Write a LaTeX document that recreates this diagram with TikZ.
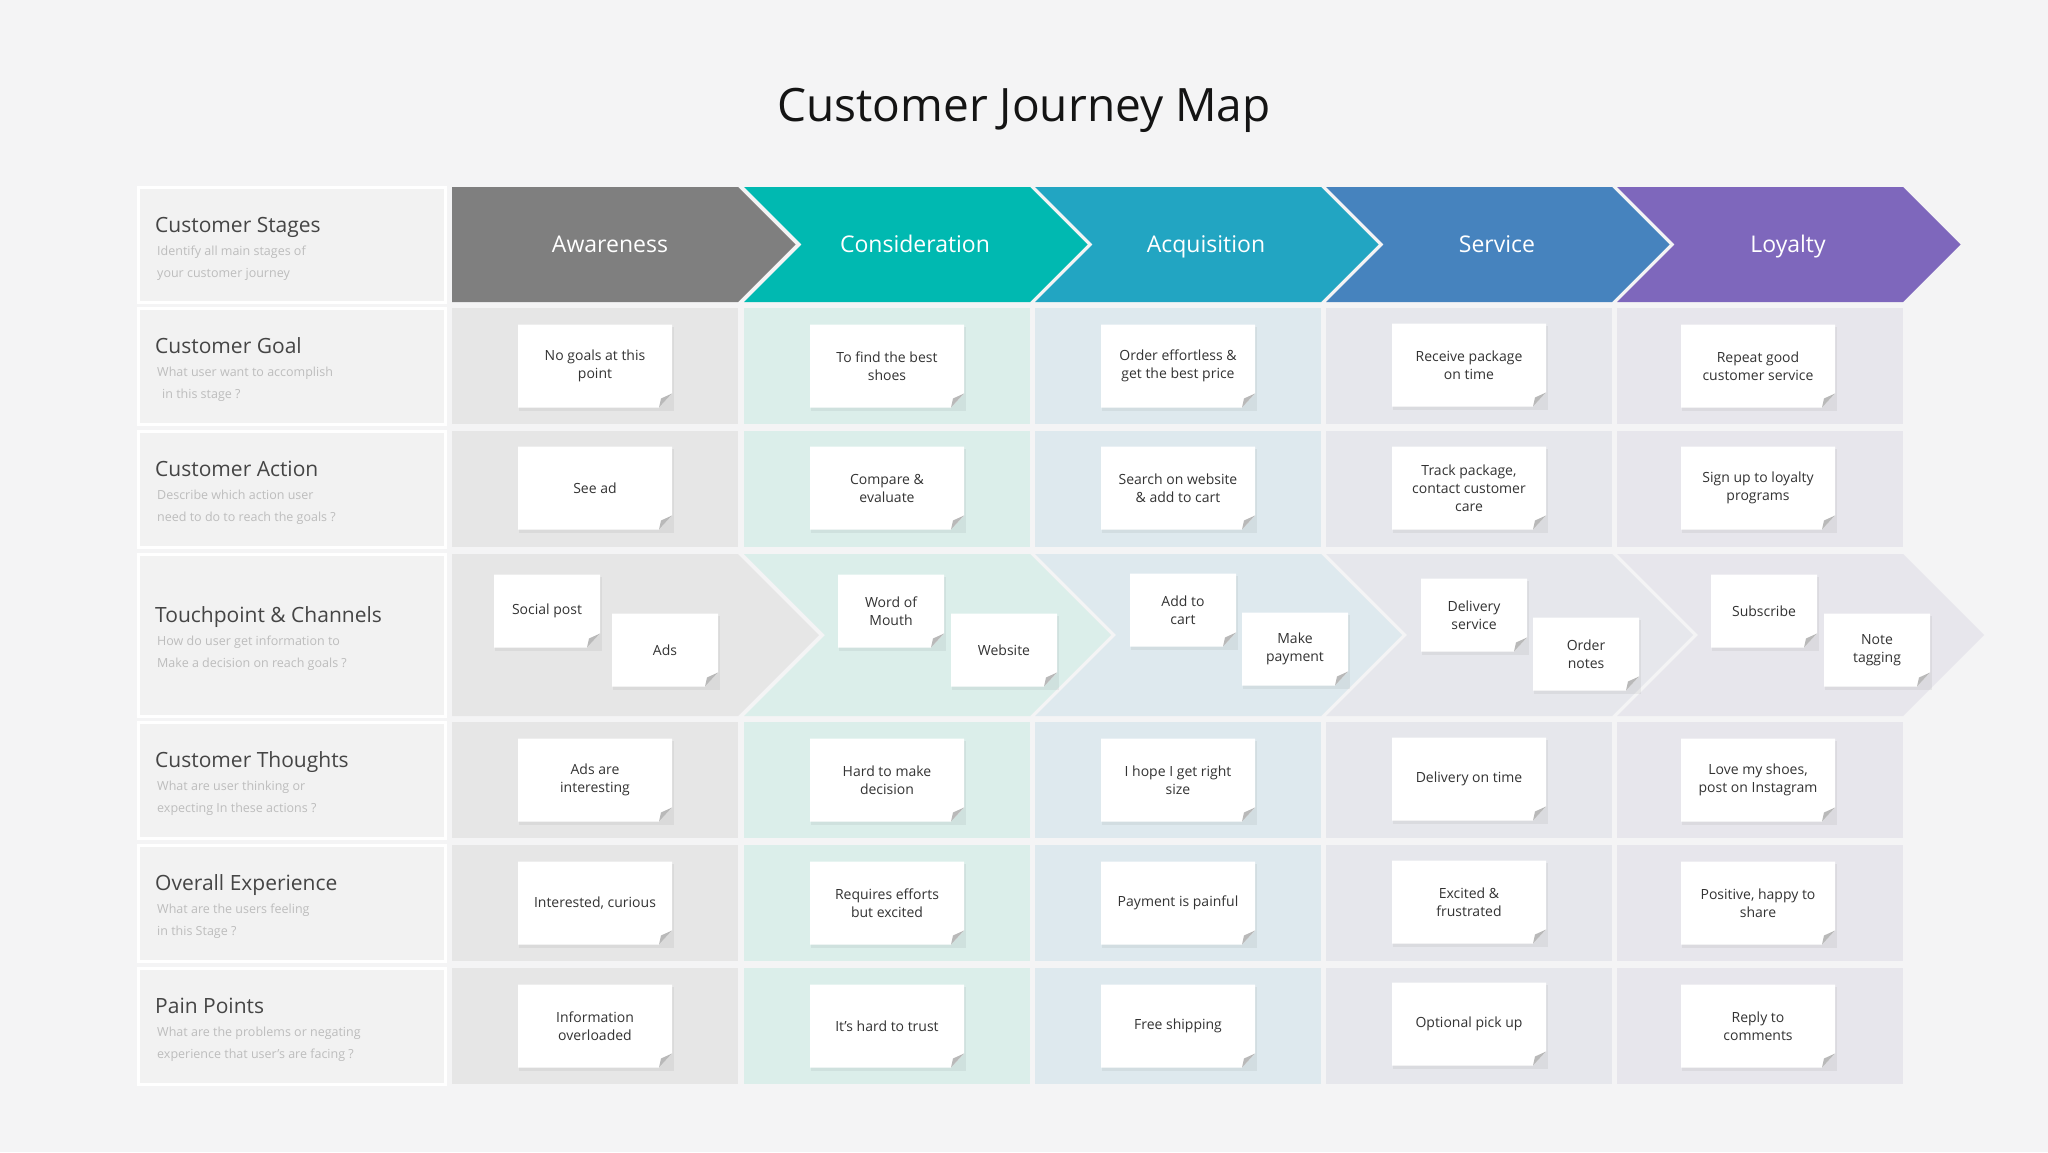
\documentclass[tikz,border=0pt]{standalone}
\usepackage{fontspec}
\setmainfont{Open Sans}
\definecolor{bgc}{HTML}{F4F4F5}
\definecolor{lblfill}{HTML}{F2F2F2}
\definecolor{subc}{HTML}{BDBDBD}
\definecolor{lbltc}{HTML}{454545}
\definecolor{notec}{HTML}{333333}
\definecolor{foldc}{HTML}{B9B9B9}
\definecolor{hdraw}{HTML}{7F7F7F}
\definecolor{hdrco}{HTML}{00B9B1}
\definecolor{hdrac}{HTML}{22A5C2}
\definecolor{hdrse}{HTML}{4683BE}
\definecolor{hdrlo}{HTML}{7E67BC}
\definecolor{cellaw}{HTML}{E6E6E6}
\definecolor{cellco}{HTML}{DBEEEA}
\definecolor{cellac}{HTML}{DEE9EE}
\definecolor{cellse}{HTML}{E6E7EC}
\definecolor{celllo}{HTML}{E7E6EC}
\tikzset{
  maintitle/.style={anchor=base, inner sep=0pt, font=\fontsize{46}{55}\selectfont, text=black!92},
  lbltitle/.style={anchor=base west, inner sep=0pt, font=\fontsize{21}{25}\selectfont, text=lbltc},
  lblsub/.style={anchor=base west, inner sep=0pt, font=\fontsize{12.5}{15}\selectfont, text=subc},
  hdrtext/.style={anchor=base, inner sep=0pt, font=\fontsize{23}{27}\selectfont, text=white},
  notetext/.style={align=center, inner sep=0pt, font=\fontsize{14}{18}\selectfont, text=notec},
  lblbox/.style={fill=lblfill, draw=white, line width=3pt}
}
\newcommand\snote[6]{%
  \fill[black, opacity=0.05] ({#2-#4/2+1},{#3-#5/2+2}) rectangle ({#2+#4/2+2},{#3+#5/2+3});
  \fill[white] ({#2-#4/2},{#3-#5/2}) -- ({#2+#4/2},{#3-#5/2}) -- ({#2+#4/2},{#3+#5/2-14}) -- ({#2+#4/2-13},{#3+#5/2}) -- ({#2-#4/2},{#3+#5/2}) -- cycle;
  \fill[foldc] ({#2+#4/2-13},{#3+#5/2}) -- ({#2+#4/2},{#3+#5/2-14}) -- ({#2+#4/2-11},{#3+#5/2-9}) -- cycle;
  \node[notetext] (#1) at (#2,#3) {#6};
}
\newcommand\lblrow[7]{% name, top, bottom, title, sub1, sub2, title baseline offset
  \fill[lblbox] (138,#2) rectangle (445,#3);
  \node[lbltitle] (#1) at (155,{#2+#7}) {#4};
  \node[lblsub] (#1a) at (157,{#2+#7+23}) {#5};
  \node[lblsub] (#1b) at (157,{#2+#7+45}) {#6};
}
\begin{document}
\begin{tikzpicture}[x=1pt,y=-1pt]
\useasboundingbox (0,0) rectangle (2048,1152);
\fill[bgc] (0,0) rectangle (2048,1152);

\node[maintitle] (title) at (1024,121) {Customer Journey Map};

% label column
\lblrow{lstage}{187}{302}{Customer Stages}{Identify all main stages of}{your customer journey}{45}
\lblrow{lgoal}{308}{424}{Customer Goal}{What user want to accomplish}{\hspace{5pt}in this stage ?}{45}
\lblrow{lact}{431}{547}{Customer Action}{Describe which action user}{need to do to reach the goals ?}{45}
\lblrow{ltouch}{554}{716}{Touchpoint \& Channels}{How do user get information to}{Make a decision on reach goals ?}{68}
\lblrow{lthought}{722}{838}{Customer Thoughts}{What are user thinking or}{expecting In these actions ?}{45}
\lblrow{lexp}{845}{961}{Overall Experience}{What are the users feeling}{in this Stage ?}{45}
\lblrow{lpain}{968}{1084}{Pain Points}{What are the problems or negating}{experience that user's are facing ?}{45}

% grid cells
\foreach \L/\c in {452/aw,744/co,1035/ac,1326/se,1617/lo}{
  \foreach \t/\b in {308/424,431/547,722/838,845/961,968/1084}{
    \fill[cell\c] (\L,\t) rectangle ({\L+286},\b);
  }
}
% touchpoint chevrons
\fill[cellaw] (452,554) -- (738,554) -- (819,635) -- (738,716) -- (452,716) -- cycle;
\foreach \L/\c in {744/co,1035/ac,1326/se,1617/lo}{
  \fill[cell\c] (\L,554) -- ({\L+286},554) -- ({\L+367},635) -- ({\L+286},716) -- (\L,716) -- ({\L+81},635) -- cycle;
}
% header chevrons
\fill[hdraw] (452,187) -- (738,187) -- (795.5,244.5) -- (738,302) -- (452,302) -- cycle;
\foreach \L/\c in {744/co,1035/ac,1326/se,1617/lo}{
  \fill[hdr\c] (\L,187) -- ({\L+286},187) -- ({\L+343.5},244.5) -- ({\L+286},302) -- (\L,302) -- ({\L+57.5},244.5) -- cycle;
}
\node[hdrtext] (haw) at (610,252) {Awareness};
\node[hdrtext] (hco) at (915,252) {Consideration};
\node[hdrtext] (hac) at (1206,252) {Acquisition};
\node[hdrtext] (hse) at (1497,252) {Service};
\node[hdrtext] (hlo) at (1788,252) {Loyalty};

% goal row
\snote{g1}{595}{366}{154}{83}{No goals at this\\point}
\snote{g2}{887}{366}{154}{83}{To find the best\\shoes}
\snote{g3}{1178}{366}{154}{83}{Order effortless \&\\get the best price}
\snote{g4}{1469}{365}{154}{83}{Receive package\\on time}
\snote{g5}{1758}{366}{154}{83}{Repeat good\\customer service}
% action row
\snote{a1}{595}{488}{154}{83}{See ad}
\snote{a2}{887}{488}{154}{83}{Compare \&\\evaluate}
\snote{a3}{1178}{488}{154}{83}{Search on website\\\& add to cart}
\snote{a4}{1469}{488}{154}{83}{Track package,\\contact customer\\care}
\snote{a5}{1758}{488}{154}{83}{Sign up to loyalty\\programs}
% touchpoint row
\snote{t1}{547}{611}{106}{73}{Social post}
\snote{t2}{665}{650}{106}{73}{Ads}
\snote{t3}{891}{611}{106}{73}{Word of\\Mouth}
\snote{t4}{1004}{650}{106}{73}{Website}
\snote{t5}{1183}{610}{106}{73}{Add to\\cart}
\snote{t6}{1295}{649}{106}{73}{Make\\payment}
\snote{t7}{1474}{615}{106}{73}{Delivery\\service}
\snote{t8}{1586}{654}{106}{73}{Order\\notes}
\snote{t9}{1764}{611}{106}{73}{Subscribe}
\snote{t10}{1877}{650}{106}{73}{Note\\tagging}
% thoughts row
\snote{c1}{595}{780}{154}{83}{Ads are\\interesting}
\snote{c2}{887}{780}{154}{83}{Hard to make\\decision}
\snote{c3}{1178}{780}{154}{83}{I hope I get right\\size}
\snote{c4}{1469}{779}{154}{83}{Delivery on time}
\snote{c5}{1758}{780}{154}{83}{Love my shoes,\\post on Instagram}
% experience row
\snote{e1}{595}{903}{154}{83}{Interested, curious}
\snote{e2}{887}{903}{154}{83}{Requires efforts\\but excited}
\snote{e3}{1178}{903}{154}{83}{Payment is painful}
\snote{e4}{1469}{902}{154}{83}{Excited \&\\frustrated}
\snote{e5}{1758}{903}{154}{83}{Positive, happy to\\share}
% pain row
\snote{p1}{595}{1026}{154}{83}{Information\\overloaded}
\snote{p2}{887}{1026}{154}{83}{It’s hard to trust}
\snote{p3}{1178}{1026}{154}{83}{Free shipping}
\snote{p4}{1469}{1024}{154}{83}{Optional pick up}
\snote{p5}{1758}{1026}{154}{83}{Reply to\\comments}
\end{tikzpicture}
\end{document}
